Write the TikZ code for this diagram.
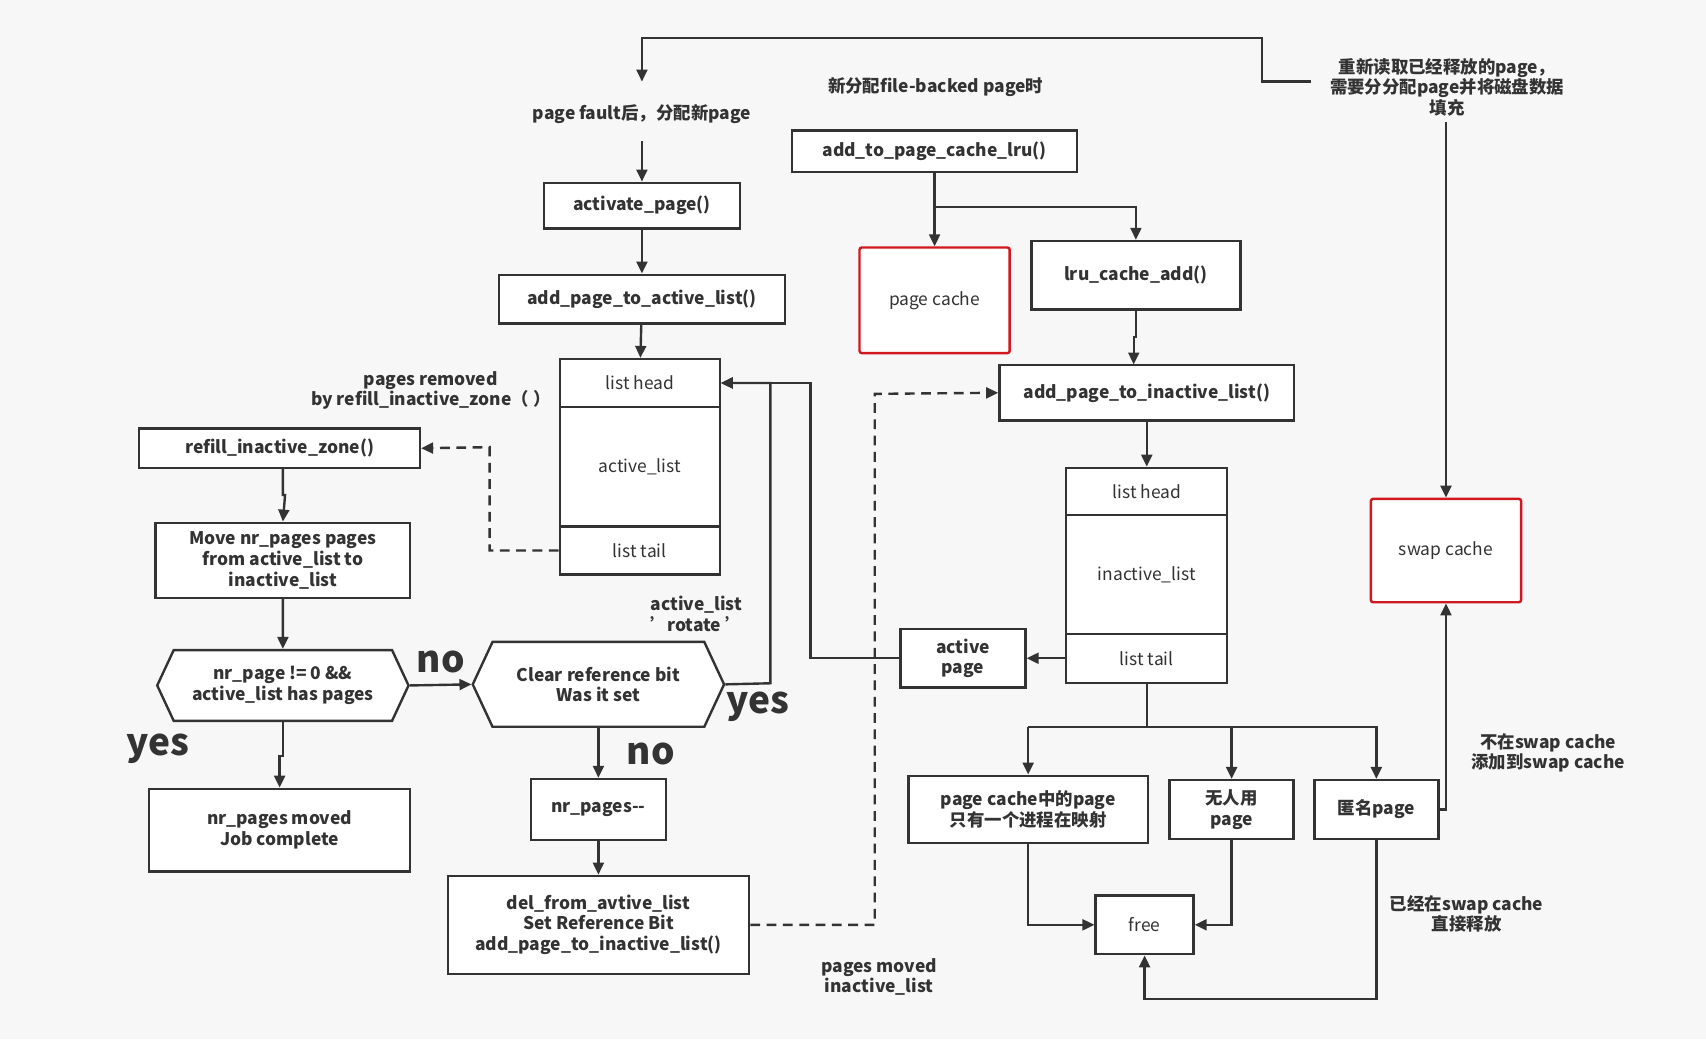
\documentclass[tikz,border=0pt]{standalone}
\usepackage{fontspec}
\setmainfont{Noto Sans CJK SC}
\usetikzlibrary{arrows.meta,shapes.geometric,shapes.symbols}
\definecolor{ln}{HTML}{333333}
\definecolor{rd}{HTML}{D0181E}
\begin{document}
\begin{tikzpicture}[x=1pt,y=-1pt,
 line width=2.2pt, draw=ln,
 ar/.style={-{Triangle[length=11pt,width=10pt]}},
 ds/.style={dash pattern=on 9pt off 6pt},
 bx/.style={draw=ln,fill=white,line width=2.2pt,inner sep=0pt,font=\bfseries\fontsize{16}{19}\selectfont,align=center,text=ln},
 pl/.style={bx,font=\fontsize{16}{19}\selectfont},
 rb/.style={pl,draw=rd,rounded corners=2pt},
 lb/.style={font=\bfseries\fontsize{16}{19}\selectfont,align=center,text=ln},
 big/.style={font=\bfseries\fontsize{34}{36}\selectfont,text=ln},
 hx/.style={bx,shape=signal,signal to=east and west,signal pointer angle=130}]
\fill[white!97!black] (0,0) rectangle (1568,955);
\useasboundingbox (0,0) rectangle (1568,955);
% nodes
\node[lb] (pf) at (590,105) {page fault后，分配新page};
\node[bx,minimum width=180,minimum height=42] (act) at (590,189) {activate\_page()};
\node[bx,minimum width=263,minimum height=45] (apal) at (590,275) {add\_page\_to\_active\_list()};
\node[pl,minimum width=147,minimum height=44] (alh) at (588,352) {list head};
\node[pl,minimum width=147,minimum height=110] (al) at (588,429) {active\_list};
\node[pl,minimum width=147,minimum height=44] (alt) at (588,506) {list tail};
\node[lb] at (396,359) {pages removed\\by refill\_inactive\_zone（ ）};
\node[bx,minimum width=258,minimum height=36] (ref) at (257,412) {refill\_inactive\_zone()};
\node[bx,minimum width=234,minimum height=69] (mv) at (260,515) {Move nr\_pages pages\\from active\_list to\\inactive\_list};
\node[hx,minimum width=231,minimum height=65] (h1) at (260,630) {nr\_page != 0 \&\&\\active\_list has pages};
\node[bx,minimum width=240,minimum height=76] (done) at (257,763) {nr\_pages moved\\Job complete};
\node[hx,minimum width=231,minimum height=78] (h2) at (550,629) {Clear reference bit\\Was it set};
\node[bx,minimum width=124,minimum height=56] (dec) at (550,744) {nr\_pages-{}-};
\node[bx,minimum width=277,minimum height=90] (del) at (550,850) {del\_from\_avtive\_list\\Set Reference Bit\\add\_page\_to\_inactive\_list()};
\node[big] at (145,688) {yes};
\node[big] at (405,608) {no};
\node[big] at (697,650) {yes};
\node[big] at (598,693) {no};
\node[lb] at (640,564) {active\_list\\\symbol{39}rotate \symbol{39}};
\node[lb] at (808,898) {pages moved\\inactive\_list};
\node[lb] at (860,80) {新分配file-backed page时};
\node[bx,minimum width=262,minimum height=38] (lru) at (859,139) {add\_to\_page\_cache\_lru()};
\node[rb,minimum width=138,minimum height=97] (pc) at (859,276) {page cache};
\node[bx,minimum width=192,minimum height=63] (lca) at (1044,253) {lru\_cache\_add()};
\node[bx,minimum width=271,minimum height=51] (apil) at (1054,361) {add\_page\_to\_inactive\_list()};
\node[pl,minimum width=148,minimum height=44] (ilh) at (1054,452) {list head};
\node[pl,minimum width=148,minimum height=109] (il) at (1054,528) {inactive\_list};
\node[pl,minimum width=148,minimum height=45] (ilt) at (1054,605) {list tail};
\node[bx,minimum width=115,minimum height=54] (ap) at (885,605) {active\\page};
\node[bx,minimum width=220,minimum height=62] (pcp) at (945,744) {page cache中的page\\只有一个进程在映射};
\node[bx,minimum width=114,minimum height=54] (nu) at (1132,744) {无人用\\page};
\node[bx,minimum width=114,minimum height=54] (an) at (1265,744) {匿名page};
\node[pl,minimum width=90,minimum height=54] (fr) at (1052,850) {free};
\node[rb,minimum width=138,minimum height=95] (sc) at (1329,506) {swap cache};
\node[lb] (top) at (1330,80) {重新读取已经释放的page，\\需要分分配page并将磁盘数据\\填充};
\node[lb] at (1423,692) {不在swap cache\\添加到swap cache};
\node[lb] at (1348,840) {已经在swap cache\\直接释放};
\coordinate (c1) at (590,75);
% connectors
\draw[ar] (1205,75) -- (1160,75) -- (1160,35) -- (590,35) -- (c1);
\draw[ar] (590,130) -- (act.north);
\draw[ar] (act) -- (apal);
\draw[ar] (apal) -- (alh);
\draw[ar,ds] (alt.west) -- (450,506) -- (450,411) -- (ref.east);
\draw[ar] (260,430) -- (260,455) -- (262,455) -- (mv.north);
\draw[ar] (mv) -- (h1);
\draw[ar] (260,663) -- (260,695) -- (257,695) -- (done.north);
\draw[ar] (h1.east) -- (h2.west);
\draw[ar] (h2.east) -- (708,628) -- (708,352) -- (alh.east);
\draw[ar] (ap.west) -- (745,605) -- (745,352) -- (alh.east);
\draw[ar] (h2.south) -- (dec.north);
\draw[ar] (dec) -- (del);
\draw[ar,ds] (del.east) -- (804,850) -- (804,362) -- (apil.west);
\draw[ar] (lru.south) -- (pc.north);
\draw[ar] (859,190) -- (1044,190) -- (lca.north);
\draw[ar] (1044,285) -- (1044,310) -- (1042,310) -- (1042,335);
\draw[ar] (apil) -- (ilh);
\draw[ar] (ilt.west) -- (ap.east);
\draw (ilt.south) -- (1054,668);
\draw[ar] (945,668) -- (1265,668) -- (an.north);
\draw[ar] (945,668) -- (pcp.north);
\draw[ar] (1132,668) -- (nu.north);
\draw[ar] (pcp.south) |- (fr.west);
\draw[ar] (nu.south) |- (fr.east);
\draw[ar] (an.south) -- (1265,918) -- (1052,918) -- (fr.south);
\draw[ar] (an.east) -- (1329,744) -- (sc.south);
\draw[ar] (1329,112) -- (sc.north);
\end{tikzpicture}
\end{document}
